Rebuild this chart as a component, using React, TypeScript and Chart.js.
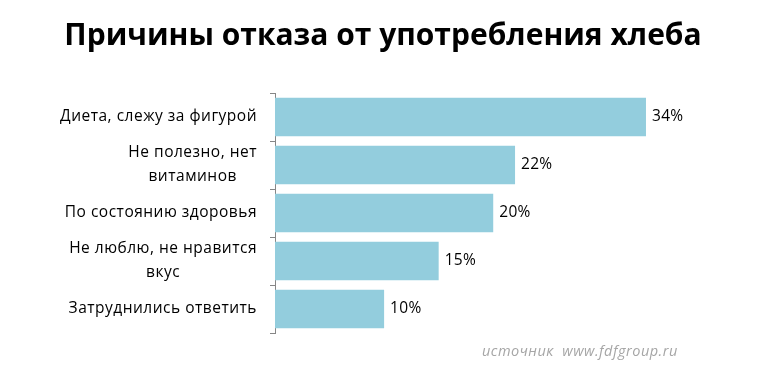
import React, { useEffect, useRef } from 'react';
import { Chart, registerables } from 'chart.js';

Chart.register(...registerables);

const categories: string[][] = [
  ['Диета, слежу за фигурой'],
  ['Не полезно, нет', 'витаминов'],
  ['По состоянию здоровья'],
  ['Не люблю, не нравится', 'вкус'],
  ['Затруднились ответить'],
];
const values: number[] = [34, 22, 20, 15, 10];
const titleText = 'Причины отказа от употребления хлеба';
const sourceText = 'источник  www.fdfgroup.ru';

const FONT = '"Open Sans", "Noto Sans", sans-serif';

const yLabelPlugin = {
  id: 'yLabels',
  afterDraw(chart: any) {
    const { ctx } = chart;
    const y = chart.scales.y;
    ctx.save();
    ctx.font = `15.5px ${FONT}`;
    (ctx as any).letterSpacing = '0.5px';
    ctx.fillStyle = '#000';
    ctx.textBaseline = 'middle';
    ctx.textAlign = 'left';
    const right = y.right - 18;
    const lh = 24;
    (chart.data.labels as any[]).forEach((lab, i) => {
      const lines: string[] = Array.isArray(lab) ? lab : [lab];
      const widths = lines.map((l) => ctx.measureText(l).width);
      const w = Math.max(...widths);
      const cx = right - w / 2;
      const cy = y.getPixelForValue(i);
      lines.forEach((l, j) =>
        ctx.fillText(l, cx - widths[j] / 2, cy + (j - (lines.length - 1) / 2) * lh)
      );
    });
    ctx.restore();
  },
};

const valueLabelPlugin = {
  id: 'valueLabels',
  afterDatasetsDraw(chart: any) {
    const { ctx } = chart;
    const meta = chart.getDatasetMeta(0);
    ctx.save();
    ctx.font = `15.5px ${FONT}`;
    (ctx as any).letterSpacing = '0.3px';
    ctx.fillStyle = '#000';
    ctx.textBaseline = 'middle';
    ctx.textAlign = 'left';
    meta.data.forEach((bar: any, i: number) => {
      ctx.fillText(`${chart.data.datasets[0].data[i]}%`, bar.x + 6, bar.y);
    });
    ctx.restore();
  },
};

const sourcePlugin = {
  id: 'sourceText',
  afterDraw(chart: any) {
    const { ctx } = chart;
    ctx.save();
    ctx.font = `italic 14.5px ${FONT}`;
    (ctx as any).letterSpacing = '0.5px';
    ctx.fillStyle = '#A6A6A6';
    ctx.textBaseline = 'middle';
    ctx.textAlign = 'left';
    ctx.fillText(sourceText, 482, 352);
    ctx.restore();
  },
};

export default function App() {
  const ref = useRef<HTMLCanvasElement | null>(null);
  useEffect(() => {
    document.body.style.margin = '0';
    if (!ref.current) return;
    const chart = new Chart(ref.current, {
      type: 'bar',
      data: {
        labels: categories,
        datasets: [
          {
            data: values,
            backgroundColor: '#93CDDD',
            borderWidth: 0,
            categoryPercentage: 1,
            barPercentage: 0.8,
          },
        ],
      },
      options: {
        indexAxis: 'y',
        responsive: false,
        animation: false,
        layout: { padding: { top: 0, bottom: 51, left: 0, right: 3 } },
        plugins: {
          legend: { display: false },
          tooltip: { enabled: false },
          title: {
            display: true,
            text: titleText,
            color: '#000',
            font: { family: FONT, size: 30, weight: 'bold' },
            padding: { top: 18.5, bottom: 38.5 },
          },
        },
        scales: {
          x: { display: false, min: 0, max: 45 },
          y: {
            position: 'left',
            grid: {
              display: true,
              drawOnChartArea: false,
              drawTicks: true,
              tickLength: 5,
              offset: true,
              color: '#868686',
            },
            border: { display: true, color: '#868686' },
            ticks: { display: false },
            afterFit: (s: any) => {
              s.width = 275;
            },
          },
        },
      },
      plugins: [yLabelPlugin, valueLabelPlugin, sourcePlugin],
    });
    return () => chart.destroy();
  }, []);
  return (
    <div style={{ position: 'absolute', left: 0, top: 0, width: 769, height: 384 }}>
      <canvas ref={ref} width={769} height={384} />
    </div>
  );
}
